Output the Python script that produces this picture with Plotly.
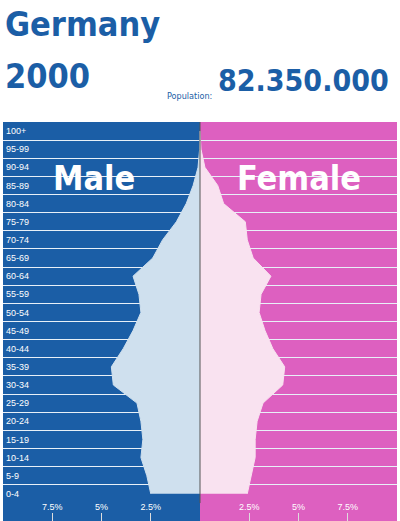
import plotly.graph_objects as go

ages = ["0-4","5-9","10-14","15-19","20-24","25-29","30-34","35-39","40-44","45-49","50-54",
        "55-59","60-64","65-69","70-74","75-79","80-84","85-89","90-94","95-99","100+"]
male = [2.5,2.7,3.0,2.9,3.0,3.2,4.4,4.5,3.9,3.4,3.0,3.1,3.4,2.4,1.9,1.2,0.7,0.35,0.1,0.02,0]
female = [2.4,2.6,2.8,2.8,2.9,3.2,4.2,4.3,3.7,3.3,3.0,3.1,3.6,2.7,2.4,2.3,1.2,0.9,0.25,0.05,0]
tick_vals = [-7.5,-5,-2.5,2.5,5,7.5]
tick_text = ["7.5%","5%","2.5%","2.5%","5%","7.5%"]

BLUE = "#1b5ea6"; PINK = "#dd60c0"
FONT = "DejaVu Sans Condensed"
ys = list(range(len(ages)))

fig = go.Figure()
fig.add_trace(go.Scatter(x=[-v for v in male], y=ys, fill="tozerox", mode="lines",
                         line=dict(color="#cfe0ee", width=1), fillcolor="#cfe0ee", hoverinfo="skip"))
fig.add_trace(go.Scatter(x=female, y=ys, fill="tozerox", mode="lines",
                         line=dict(color="#f9e2f0", width=1), fillcolor="#f9e2f0", hoverinfo="skip"))

fig.add_shape(type="rect", xref="x", yref="paper", x0=-10, x1=0, y0=0, y1=1, fillcolor=BLUE, line_width=0, layer="below")
fig.add_shape(type="rect", xref="x", yref="paper", x0=0, x1=10, y0=0, y1=1, fillcolor=PINK, line_width=0, layer="below")
fig.add_shape(type="line", xref="x", yref="paper", x0=0, x1=0, y0=0.045, y1=1, line=dict(color="#555", width=1))

plot_h = 521 - 122
def py(px):
    return (521 - px) / plot_h

fig.update_layout(
    width=400, height=521, margin=dict(l=3, r=3, t=122, b=0, autoexpand=False),
    paper_bgcolor="white", plot_bgcolor="rgba(0,0,0,0)", showlegend=False,
    xaxis=dict(range=[-10, 10], tickvals=tick_vals, ticktext=tick_text, showgrid=False, zeroline=False,
               ticks="inside", ticklen=8, tickcolor="#dddddd", ticklabelposition="inside",
               tickfont=dict(color="white", size=9, family="Liberation Sans"), fixedrange=True),
    yaxis=dict(range=[-1.5, 20.5], tickvals=ys, ticktext=ages, ticklabelposition="inside",
               tickfont=dict(color="white", size=9, family="Liberation Sans"), showgrid=False, zeroline=False,
               minor=dict(tickvals=[i + 0.5 for i in range(-1, 20)], showgrid=True, gridcolor="#e8f0f8", gridwidth=1),
               fixedrange=True),
    annotations=[
        dict(text="<b>Male</b>", x=-5.4, y=17.4, xref="x", yref="y", showarrow=False,
             font=dict(family=FONT, size=34, color="white")),
        dict(text="<b>Female</b>", x=5.0, y=17.4, xref="x", yref="y", showarrow=False,
             font=dict(family=FONT, size=34, color="white")),
        dict(text="<b>Germany</b>", x=0.0, y=py(2), xref="paper", yref="paper", xanchor="left", yanchor="top",
             showarrow=False, font=dict(family=FONT, size=34, color=BLUE)),
        dict(text="<b>2000</b>", x=0.0, y=py(54), xref="paper", yref="paper", xanchor="left", yanchor="top",
             showarrow=False, font=dict(family=FONT, size=34, color=BLUE)),
        dict(text="Population:", x=0.535, y=py(103), xref="paper", yref="paper", xanchor="right", yanchor="bottom",
             showarrow=False, font=dict(family=FONT, size=9, color=BLUE)),
        dict(text="<b>82.350.000</b>", x=0.985, y=py(100), xref="paper", yref="paper", xanchor="right", yanchor="bottom",
             showarrow=False, font=dict(family=FONT, size=30, color=BLUE)),
    ],
)
fig.write_html("out.html", config={"displayModeBar": False},
               post_script="document.body.style.margin='0';document.body.style.overflow='hidden';")
